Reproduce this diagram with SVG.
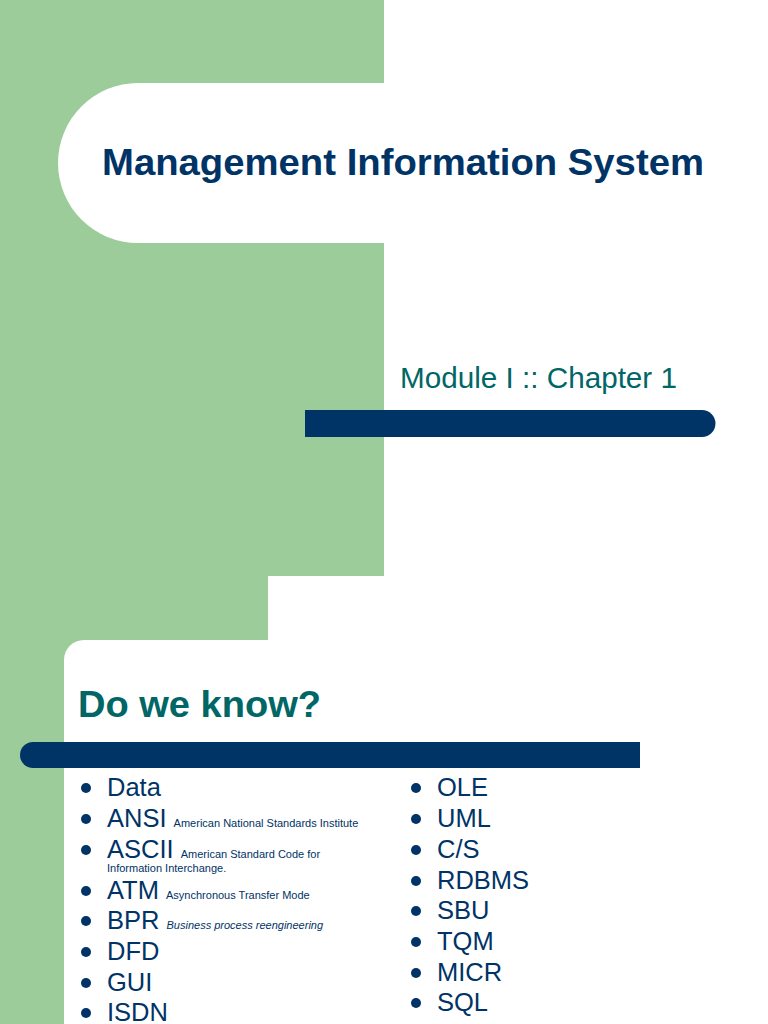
<svg xmlns="http://www.w3.org/2000/svg" width="768" height="1024" viewBox="0 0 768 1024">
<style>
.b{font-family:"Liberation Sans",Arial,sans-serif;font-size:25.5px;fill:#003366}
.s{font-family:"Liberation Sans",Arial,sans-serif;font-size:11px;fill:#003366}
.d{fill:#003366}
</style>
<rect width="768" height="1024" fill="#fff"/>
<g id="slide1">
<rect x="0" y="0" width="384" height="576" fill="#9ccc9a"/>
<path d="M138 83 H768 V243 H138 A80 80 0 0 1 138 83 Z" fill="#fff"/>
<text x="102" y="175" font-family="Liberation Sans,Arial,sans-serif" font-size="37" font-weight="bold" fill="#003366" textLength="602" lengthAdjust="spacingAndGlyphs">Management Information System</text>
<text x="400" y="388" font-family="Liberation Sans,Arial,sans-serif" font-size="29" fill="#006666" textLength="277" lengthAdjust="spacingAndGlyphs">Module I :: Chapter 1</text>
<path d="M305 410 H702 A13.5 13.5 0 0 1 702 437 H305 Z" fill="#003366"/>
</g>
<g id="slide2">
<rect x="0" y="576" width="268" height="448" fill="#9ccc9a"/>
<path d="M64 1024 V660 A20 20 0 0 1 84 640 H768 V1024 Z" fill="#fff"/>
<text x="78" y="717" font-family="Liberation Sans,Arial,sans-serif" font-size="37" font-weight="bold" fill="#006666" textLength="243" lengthAdjust="spacingAndGlyphs">Do we know?</text>
<path d="M640 742 H33 A13 13 0 0 0 33 768 H640 Z" fill="#003366"/>
<g id="left">
<circle class="d" cx="86" cy="788" r="5"/><text class="b" x="107" y="796">Data</text>
<circle class="d" cx="86" cy="819" r="5"/><text class="b" x="107" y="827">ANSI <tspan class="s">American National Standards Institute</tspan></text>
<circle class="d" cx="86" cy="850" r="5"/><text class="b" x="107" y="858">ASCII <tspan class="s">American Standard Code for</tspan></text>
<text class="s" x="107" y="872">Information Interchange.</text>
<circle class="d" cx="86" cy="891" r="5"/><text class="b" x="107" y="899">ATM <tspan class="s">Asynchronous Transfer Mode</tspan></text>
<circle class="d" cx="86" cy="921" r="5"/><text class="b" x="107" y="929">BPR <tspan class="s" font-style="italic">Business process reengineering</tspan></text>
<circle class="d" cx="86" cy="952" r="5"/><text class="b" x="107" y="960">DFD</text>
<circle class="d" cx="86" cy="983" r="5"/><text class="b" x="107" y="991">GUI</text>
<circle class="d" cx="86" cy="1013" r="5"/><text class="b" x="107" y="1021">ISDN</text>
</g>
<g id="right">
<circle class="d" cx="416" cy="788" r="5"/><text class="b" x="437" y="796">OLE</text>
<circle class="d" cx="416" cy="819" r="5"/><text class="b" x="437" y="827">UML</text>
<circle class="d" cx="416" cy="850" r="5"/><text class="b" x="437" y="858">C/S</text>
<circle class="d" cx="416" cy="881" r="5"/><text class="b" x="437" y="889">RDBMS</text>
<circle class="d" cx="416" cy="911" r="5"/><text class="b" x="437" y="919">SBU</text>
<circle class="d" cx="416" cy="942" r="5"/><text class="b" x="437" y="950">TQM</text>
<circle class="d" cx="416" cy="973" r="5"/><text class="b" x="437" y="981">MICR</text>
<circle class="d" cx="416" cy="1003" r="5"/><text class="b" x="437" y="1011">SQL</text>
<circle class="d" cx="416" cy="1034" r="5"/><text class="b" x="437" y="1042">RAM</text>
</g>
</g>
</svg>
